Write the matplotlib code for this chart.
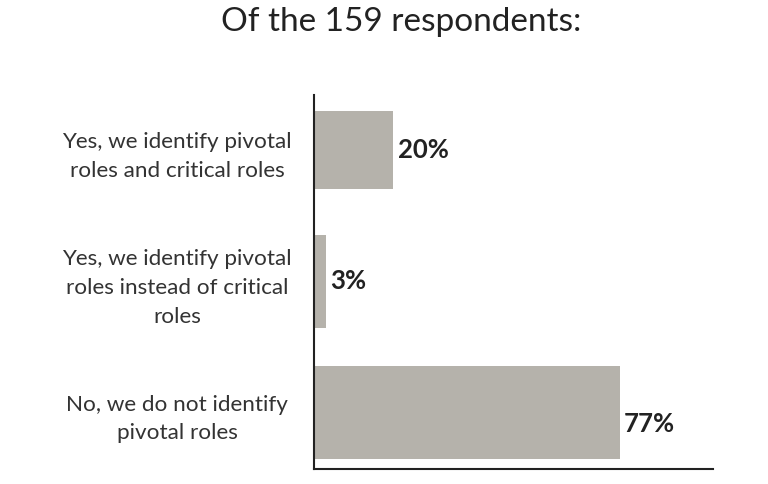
import matplotlib.pyplot as plt

plt.rcParams['font.family'] = ['Lato', 'DejaVu Sans']

# data
categories = ['Yes, we identify pivotal\nroles and critical roles',
              'Yes, we identify pivotal\nroles instead of critical\nroles',
              'No, we do not identify\npivotal roles']
shares = [20, 3, 77]
value_labels = ['20%', '3%', '77%']

bar_color = '#b5b2ab'
text_color = '#222222'

fig = plt.figure(figsize=(7.68, 4.84), dpi=100)
ax = fig.add_axes([0.4089, 0.031, 0.5195, 0.7727])

ypos = list(range(len(categories)))
ax.barh(ypos, shares, height=[0.59, 0.71, 0.71], color=bar_color)

offsets = [0, 0, -8]
for y, v, lab, off in zip(ypos, shares, value_labels, offsets):
    ax.annotate(lab, (v, y), xytext=(3, off), textcoords='offset points',
                ha='left', va='center', fontsize=18.5, fontweight='bold',
                color=text_color)

ax.set_xlim(0, 100.5)
ax.set_ylim(2.43, -0.42)
ax.set_yticks(ypos)
ax.set_yticklabels(categories, fontsize=16.2, color='#333333',
                   ha='center', linespacing=1.55)
ax.tick_params(axis='y', length=0, pad=98.5)
ax.set_xticks([])
for s in ['top', 'right']:
    ax.spines[s].set_visible(False)
for s in ['left', 'bottom']:
    ax.spines[s].set_linewidth(1.5)
    ax.spines[s].set_color('#222222')

fig.text(0.522, 0.955, 'Of the 159 respondents:', ha='center', va='center',
         fontsize=24, color=text_color)

fig.savefig('out.png', dpi=100)
